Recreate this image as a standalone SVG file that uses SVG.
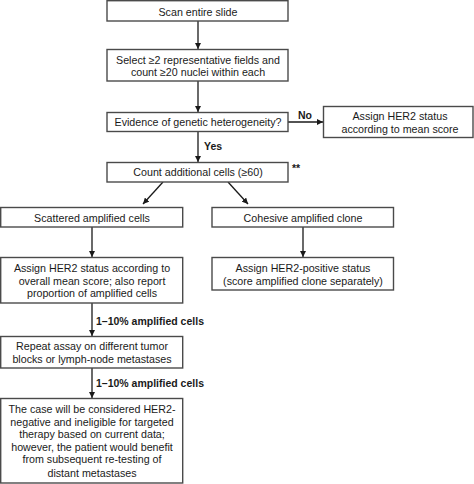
<svg xmlns="http://www.w3.org/2000/svg" width="474" height="484" viewBox="0 0 474 484">
<defs>
<marker id="ah" viewBox="0 0 10 10" refX="10" refY="5" markerWidth="6" markerHeight="6" markerUnits="userSpaceOnUse" orient="auto">
<path d="M0,0 L10,5 L0,10 z" fill="#1a1a1a"/>
</marker>
<style>
.box{fill:#fff;stroke:#4a4a4a;stroke-width:1.4}
.t{font-family:"Liberation Sans",Arial,sans-serif;font-size:10.7px;fill:#1a1a1a;text-anchor:middle}
.b{font-family:"Liberation Sans",Arial,sans-serif;font-size:10.5px;font-weight:bold;fill:#1a1a1a}
.c{stroke:#1a1a1a;stroke-width:1.3;fill:none;marker-end:url(#ah)}
</style>
</defs>
<rect width="474" height="484" fill="#fff"/>
<g id="connectors">
<line class="c" x1="198" y1="21" x2="198" y2="49"/>
<line class="c" x1="198" y1="81" x2="198" y2="112"/>
<line class="c" x1="288" y1="122" x2="323" y2="122"/>
<line class="c" x1="198" y1="131" x2="198" y2="162"/>
<line class="c" x1="163" y1="182" x2="143" y2="204"/>
<line class="c" x1="228" y1="182" x2="248" y2="204"/>
<line class="c" x1="92" y1="227" x2="92" y2="257"/>
<line class="c" x1="303" y1="227" x2="303" y2="257"/>
<line class="c" x1="92" y1="303" x2="92" y2="336"/>
<line class="c" x1="92" y1="368" x2="92" y2="398"/>
<text class="b" x="298" y="119">No</text>
<text class="b" x="204" y="150">Yes</text>
<text class="b" x="96" y="324.5">1–10% amplified cells</text>
<text class="b" x="96" y="387">1–10% amplified cells</text>
</g>
<g id="n1"><rect class="box" x="107" y="0.7" width="181" height="20.3"/><text class="t" x="198" y="15.5">Scan entire slide</text></g>
<g id="n2"><rect class="box" x="107" y="49.5" width="181" height="31.5"/><text class="t" x="198" y="64">Select ≥2 representative fields and</text><text class="t" x="198" y="76">count ≥20 nuclei within each</text></g>
<g id="n3"><rect class="box" x="107" y="112.5" width="181" height="19"/><text class="t" x="198" y="126">Evidence of genetic heterogeneity?</text></g>
<g id="n4"><rect class="box" x="323.5" y="106.5" width="149.5" height="31"/><text class="t" x="400" y="120">Assign HER2 status</text><text class="t" x="400" y="132.5">according to mean score</text></g>
<g id="n5"><rect class="box" x="107" y="162.5" width="181" height="19.5"/><text class="t" x="198" y="176">Count additional cells (≥60)</text><text class="b" x="292" y="172">**</text></g>
<g id="n6"><rect class="box" x="0.7" y="207.5" width="182" height="19.5"/><text class="t" x="92" y="221.5">Scattered amplified cells</text></g>
<g id="n7"><rect class="box" x="212" y="207.5" width="181.5" height="19.5"/><text class="t" x="303" y="221.5">Cohesive amplified clone</text></g>
<g id="n8"><rect class="box" x="0.7" y="257.5" width="182" height="45.5"/><text class="t" x="92" y="272">Assign HER2 status according to</text><text class="t" x="92" y="284.5">overall mean score; also report</text><text class="t" x="92" y="297">proportion of amplified cells</text></g>
<g id="n9"><rect class="box" x="212" y="257.5" width="181.5" height="32.5"/><text class="t" x="303" y="272">Assign HER2-positive status</text><text class="t" x="303" y="284.5">(score amplified clone separately)</text></g>
<g id="n10"><rect class="box" x="0.7" y="336.5" width="182" height="31.5"/><text class="t" x="92" y="350">Repeat assay on different tumor</text><text class="t" x="92" y="363">blocks or lymph-node metastases</text></g>
<g id="n11"><rect class="box" x="0.7" y="398.5" width="182" height="84.5"/><text class="t" x="92" y="413">The case will be considered HER2-</text><text class="t" x="92" y="425.5">negative and ineligible for targeted</text><text class="t" x="92" y="438">therapy based on current data;</text><text class="t" x="92" y="450.5">however, the patient would benefit</text><text class="t" x="92" y="463">from subsequent re-testing of</text><text class="t" x="92" y="476.5">distant metastases</text></g>
</svg>
